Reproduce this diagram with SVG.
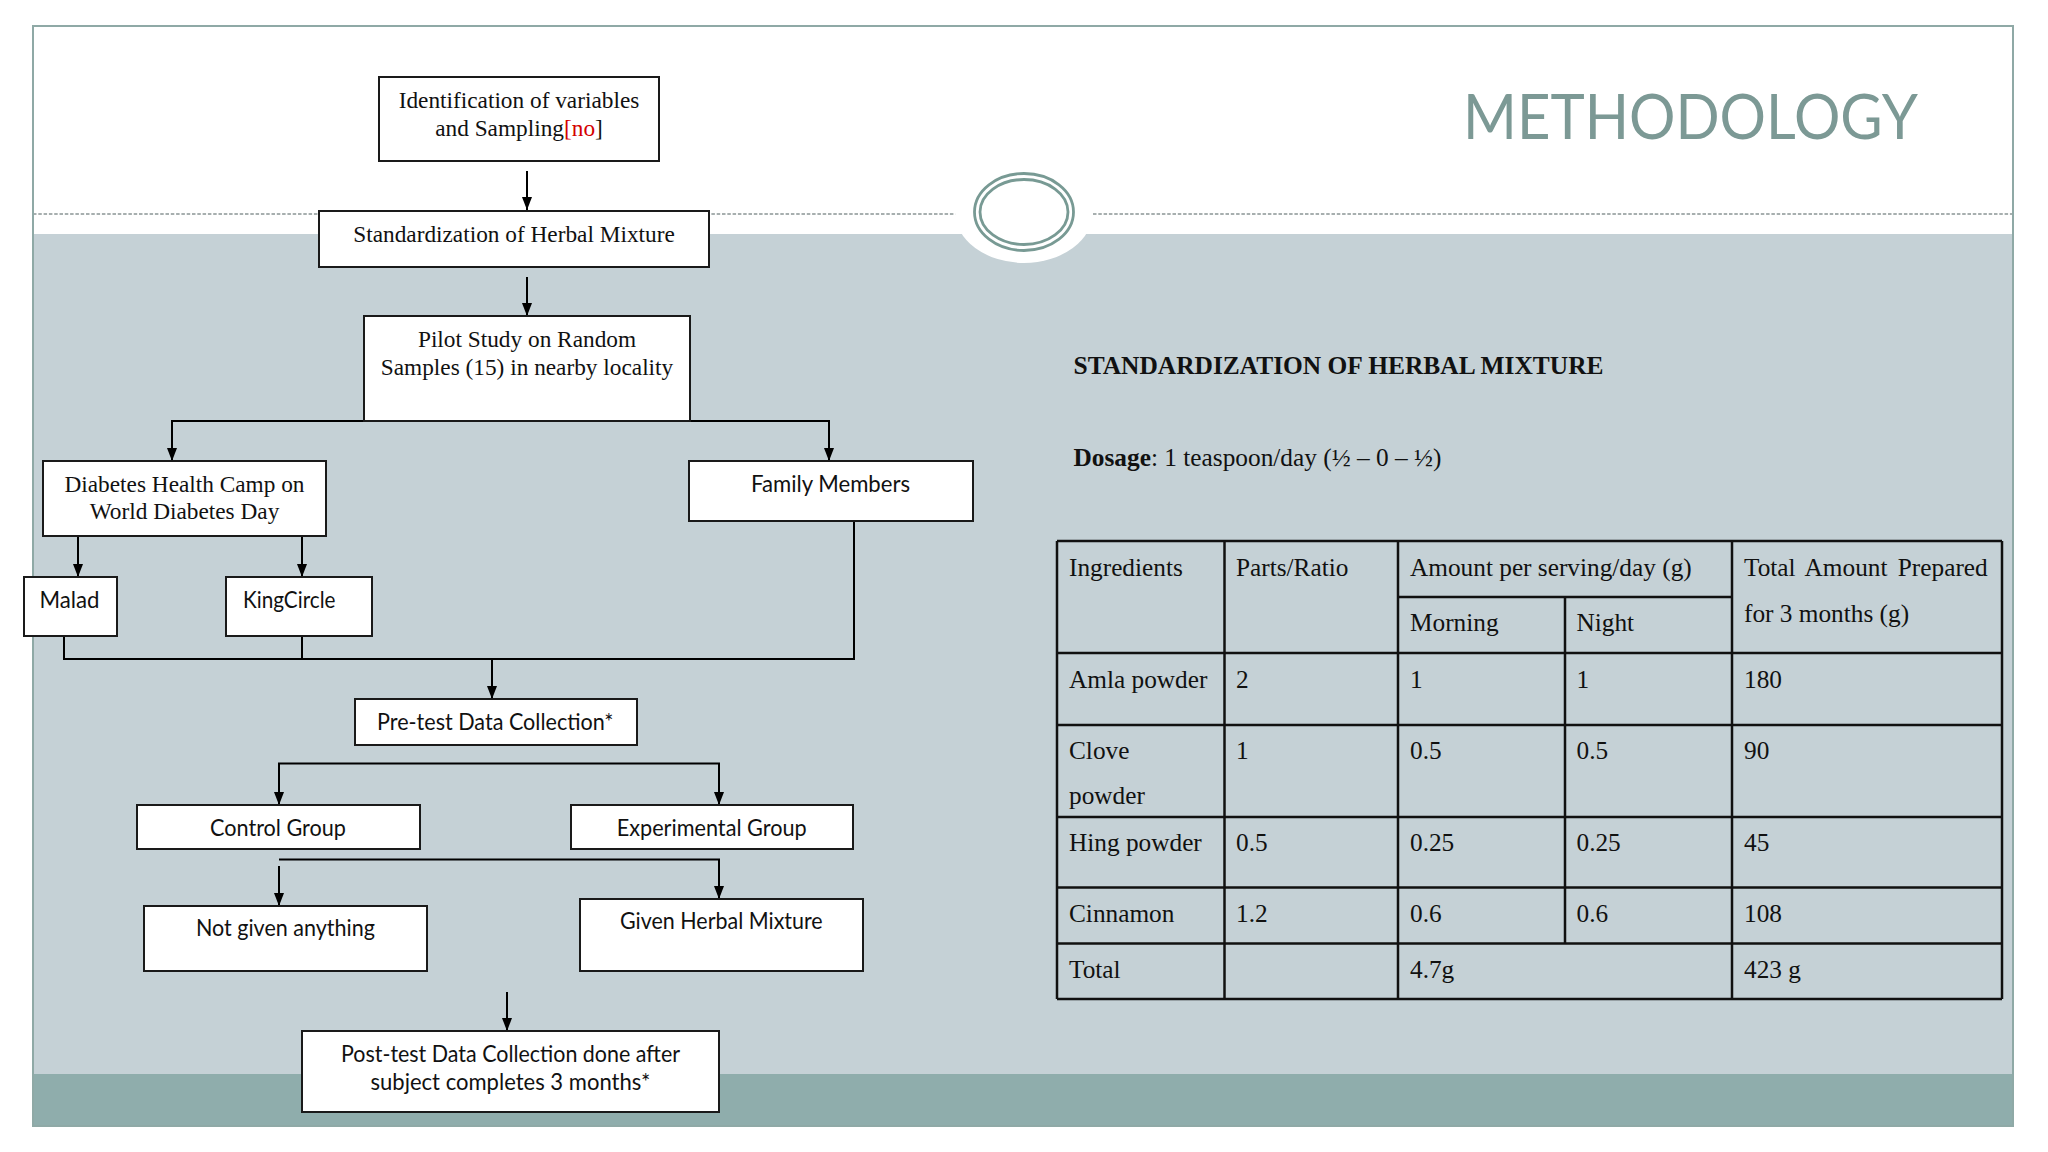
<svg xmlns="http://www.w3.org/2000/svg" width="2048" height="1152" viewBox="0 0 2048 1152">
<defs>
<style>
.box{fill:#ffffff;stroke:#1a1a1a;stroke-width:2}
.con{fill:none;stroke:#000;stroke-width:2}
.serif{font-family:"Liberation Serif","Times New Roman",serif;font-size:23.3px;fill:#111}
.sans{font-family:Lato,"Liberation Sans",sans-serif;font-size:23.5px;fill:#111}
.tb{font-family:"Liberation Serif","Times New Roman",serif;font-size:25.3px;fill:#111}
.grid{stroke:#111;stroke-width:2.5;fill:none}
.ring{fill:none;stroke:#789a94;stroke-width:2.8}
</style>
<marker id="arr" viewBox="0 0 13 10" refX="13" refY="5" markerWidth="13" markerHeight="10" markerUnits="userSpaceOnUse" orient="auto">
<path d="M0,0 L13,5 L0,10 z" fill="#000"/>
</marker>
</defs>

<g id="background">
<rect x="0" y="0" width="2048" height="1152" fill="#ffffff"/>
<rect x="33" y="26" width="1980" height="1100" fill="#ffffff"/>
<rect x="33" y="234" width="1980" height="840" fill="#c5d1d6"/>
<rect x="33" y="1074" width="1980" height="52" fill="#8fadac"/>
<line x1="33" y1="214" x2="2013" y2="214" stroke="#8a9595" stroke-width="1.5" stroke-dasharray="3.5 1.8"/>
<ellipse cx="1024" cy="212" rx="69" ry="51" fill="#ffffff"/>
<ellipse class="ring" cx="1024" cy="212" rx="49.5" ry="38.5"/>
<ellipse class="ring" cx="1024" cy="212" rx="44" ry="32.5"/>
<rect x="33" y="26" width="1980" height="1100" fill="none" stroke="#8fa9a6" stroke-width="2"/>
</g>

<text id="title" x="1463" y="139" textLength="455" lengthAdjust="spacingAndGlyphs" style="font-family:Lato,'Open Sans',sans-serif;font-size:61px;fill:#7c9995">METHODOLOGY</text>

<g id="connectors">
<path class="con" d="M527,171 V210" marker-end="url(#arr)"/>
<path class="con" d="M527,277 V316" marker-end="url(#arr)"/>
<path class="con" d="M527,421 H172 V461" marker-end="url(#arr)"/>
<path class="con" d="M527,421 H829 V461" marker-end="url(#arr)"/>
<path class="con" d="M78,536 V577" marker-end="url(#arr)"/>
<path class="con" d="M302,536 V577" marker-end="url(#arr)"/>
<path class="con" d="M64,636 V659 H854 V521"/>
<path class="con" d="M302,636 V659"/>
<path class="con" d="M492,659 V699" marker-end="url(#arr)"/>
<path class="con" d="M500,763.6 H279 V805" marker-end="url(#arr)"/>
<path class="con" d="M500,763.6 H719 V805" marker-end="url(#arr)"/>
<path class="con" d="M279,859.6 H719 V899" marker-end="url(#arr)"/>
<path class="con" d="M279,866 V906" marker-end="url(#arr)"/>
<path class="con" d="M507,992 V1031" marker-end="url(#arr)"/>
</g>

<g id="n-identification">
<rect class="box" x="379" y="77" width="280" height="84"/>
<text class="serif" x="519" y="108" text-anchor="middle">Identification of variables</text>
<text class="serif" x="519" y="136" text-anchor="middle">and Sampling<tspan fill="#d40000">[no</tspan>]</text>
</g>

<g id="n-standardization">
<rect class="box" x="319" y="211" width="390" height="56"/>
<text class="serif" x="514" y="242" text-anchor="middle">Standardization of Herbal Mixture</text>
</g>

<g id="n-pilot">
<rect class="box" x="364" y="316" width="326" height="105"/>
<text class="serif" x="527" y="347" text-anchor="middle">Pilot Study on Random</text>
<text class="serif" x="527" y="375" text-anchor="middle">Samples (15) in nearby locality</text>
</g>

<g id="n-camp">
<rect class="box" x="43" y="461" width="283" height="75"/>
<text class="serif" x="184.5" y="492" text-anchor="middle">Diabetes Health Camp on</text>
<text class="serif" x="184.5" y="519" text-anchor="middle">World Diabetes Day</text>
</g>

<g id="n-family">
<rect class="box" x="689" y="461" width="284" height="60"/>
<text class="sans" x="751" y="491.5" textLength="159" lengthAdjust="spacingAndGlyphs">Family Members</text>
</g>

<g id="n-malad">
<rect class="box" x="24" y="577" width="93" height="59"/>
<text class="sans" x="39.5" y="607.5" textLength="60" lengthAdjust="spacingAndGlyphs">Malad</text>
</g>

<g id="n-kingcircle">
<rect class="box" x="226" y="577" width="146" height="59"/>
<text class="sans" x="243" y="607.5" textLength="92.5" lengthAdjust="spacingAndGlyphs">KingCircle</text>
</g>

<g id="n-pretest">
<rect class="box" x="355" y="699" width="282" height="46"/>
<text class="sans" x="377" y="730" textLength="236.5" lengthAdjust="spacingAndGlyphs">Pre-test Data Collection*</text>
</g>

<g id="n-control">
<rect class="box" x="137" y="805" width="283" height="44"/>
<text class="sans" x="210" y="836" textLength="136" lengthAdjust="spacingAndGlyphs">Control Group</text>
</g>

<g id="n-experimental">
<rect class="box" x="571" y="805" width="282" height="44"/>
<text class="sans" x="616.7" y="836" textLength="190" lengthAdjust="spacingAndGlyphs">Experimental Group</text>
</g>

<g id="n-notgiven">
<rect class="box" x="144" y="906" width="283" height="65"/>
<text class="sans" x="195.9" y="935.5" textLength="179" lengthAdjust="spacingAndGlyphs">Not given anything</text>
</g>

<g id="n-given">
<rect class="box" x="580" y="899" width="283" height="72"/>
<text class="sans" x="620" y="928.5" textLength="202.7" lengthAdjust="spacingAndGlyphs">Given Herbal Mixture</text>
</g>

<g id="n-posttest">
<rect class="box" x="302" y="1031" width="417" height="81"/>
<text class="sans" x="341" y="1061.5" textLength="339" lengthAdjust="spacingAndGlyphs">Post-test Data Collection done after</text>
<text class="sans" x="370.5" y="1089.5" textLength="280" lengthAdjust="spacingAndGlyphs">subject completes 3 months*</text>
</g>

<g id="table-heading">
<text class="tb" x="1073.5" y="374" font-weight="bold" textLength="530" lengthAdjust="spacingAndGlyphs">STANDARDIZATION OF HERBAL MIXTURE</text>
<text class="tb" x="1073.5" y="466" textLength="368" lengthAdjust="spacingAndGlyphs"><tspan font-weight="bold">Dosage</tspan>: 1 teaspoon/day (½ – 0 – ½)</text>
</g>

<g id="table">
<g class="grid">
<line x1="1057" y1="541" x2="2002" y2="541"/>
<line x1="1398" y1="597" x2="1732" y2="597"/>
<line x1="1057" y1="653" x2="2002" y2="653"/>
<line x1="1057" y1="725" x2="2002" y2="725"/>
<line x1="1057" y1="817" x2="2002" y2="817"/>
<line x1="1057" y1="887.5" x2="2002" y2="887.5"/>
<line x1="1057" y1="943.5" x2="2002" y2="943.5"/>
<line x1="1057" y1="999" x2="2002" y2="999"/>
<line x1="1057" y1="541" x2="1057" y2="999"/>
<line x1="1224.5" y1="541" x2="1224.5" y2="999"/>
<line x1="1398" y1="541" x2="1398" y2="999"/>
<line x1="1565" y1="597" x2="1565" y2="943.5"/>
<line x1="1732" y1="541" x2="1732" y2="999"/>
<line x1="2002" y1="541" x2="2002" y2="999"/>
</g>
<text class="tb" x="1069" y="576">Ingredients</text>
<text class="tb" x="1236" y="576">Parts/Ratio</text>
<text class="tb" x="1410" y="576">Amount per serving/day (g)</text>
<text class="tb" x="1744" y="576" word-spacing="4">Total Amount Prepared</text>
<text class="tb" x="1744" y="621.5">for 3 months (g)</text>
<text class="tb" x="1410" y="631">Morning</text>
<text class="tb" x="1576.5" y="631">Night</text>

<text class="tb" x="1069" y="687.5">Amla powder</text>
<text class="tb" x="1236" y="687.5">2</text>
<text class="tb" x="1410" y="687.5">1</text>
<text class="tb" x="1576.5" y="687.5">1</text>
<text class="tb" x="1744" y="687.5">180</text>

<text class="tb" x="1069" y="759">Clove</text>
<text class="tb" x="1069" y="804">powder</text>
<text class="tb" x="1236" y="759">1</text>
<text class="tb" x="1410" y="759">0.5</text>
<text class="tb" x="1576.5" y="759">0.5</text>
<text class="tb" x="1744" y="759">90</text>

<text class="tb" x="1069" y="851">Hing powder</text>
<text class="tb" x="1236" y="851">0.5</text>
<text class="tb" x="1410" y="851">0.25</text>
<text class="tb" x="1576.5" y="851">0.25</text>
<text class="tb" x="1744" y="851">45</text>

<text class="tb" x="1069" y="921.5">Cinnamon</text>
<text class="tb" x="1236" y="921.5">1.2</text>
<text class="tb" x="1410" y="921.5">0.6</text>
<text class="tb" x="1576.5" y="921.5">0.6</text>
<text class="tb" x="1744" y="921.5">108</text>

<text class="tb" x="1069" y="977.5">Total</text>
<text class="tb" x="1410" y="977.5">4.7g</text>
<text class="tb" x="1744" y="977.5">423 g</text>
</g>
</svg>
